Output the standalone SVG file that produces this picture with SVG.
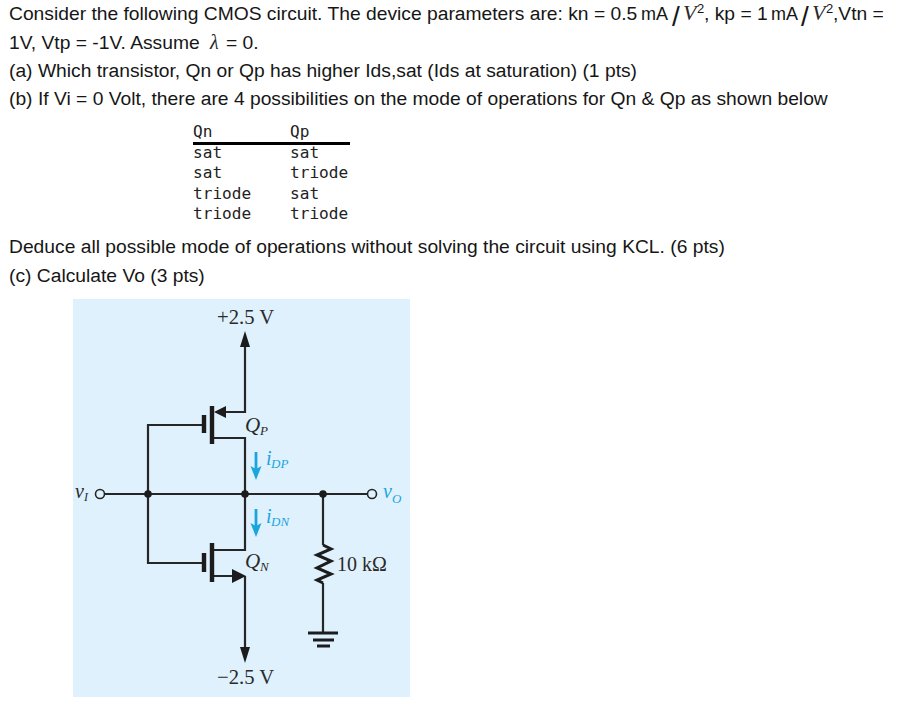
<svg xmlns="http://www.w3.org/2000/svg" width="902" height="706" viewBox="0 0 902 706">
<style>
.t{font-family:"Liberation Sans",Arial,sans-serif;font-size:19.25px;fill:#161616}
.m{font-family:"DejaVu Sans Mono","Liberation Mono",monospace;font-size:16.1px;fill:#222}
.s{font-family:"Liberation Serif","Times New Roman",serif;fill:#2a2a2a}
.i{font-style:italic}
.b{fill:#1ba5de}
.w{fill:none;stroke:#262626;stroke-width:2.2}
.z{fill:none;stroke:#1c1c1c;stroke-width:3}
.h{fill:none;stroke:#1c1c1c;stroke-width:4.4}
.f{fill:#1c1c1c}
.c{fill:#1ba5de}
.a{fill:none;stroke:#1ba5de;stroke-width:2.8}
.o{fill:#dff1fc;stroke:#262626;stroke-width:1.6}
</style>
<rect width="902" height="706" fill="#fff"/>
<g id="question">
<text class="t" x="9" y="20">Consider the following CMOS circuit. The device parameters are: kn = 0.5</text>
<text class="t" x="641" y="20" style="font-size:18px">mA</text>
<text class="t" x="672" y="26" style="font-size:28px">/</text>
<text class="s i" x="683" y="20" font-size="22" fill="#161616">V</text>
<text class="t" x="697" y="13" style="font-size:13px">2</text>
<text class="t" x="704" y="20">, kp = 1</text>
<text class="t" x="771" y="20" style="font-size:18px">mA</text>
<text class="t" x="801" y="26" style="font-size:28px">/</text>
<text class="s i" x="812" y="20" font-size="22" fill="#161616">V</text>
<text class="t" x="826" y="13" style="font-size:13px">2</text>
<text class="t" x="833" y="20">,Vtn =</text>
<text class="t" x="9" y="49">1V, Vtp = -1V. Assume</text>
<text class="s i" x="210" y="49" font-size="20" fill="#161616">λ</text>
<text class="t" x="226" y="49">= 0.</text>
<text class="t" x="9" y="77">(a) Which transistor, Qn or Qp has higher Ids,sat (Ids at saturation) (1 pts)</text>
<text class="t" x="9" y="105">(b) If Vi = 0 Volt, there are 4 possibilities on the mode of operations for Qn &amp; Qp as shown below</text>
<text class="t" x="9" y="253">Deduce all possible mode of operations without solving the circuit using KCL. (6 pts)</text>
<text class="t" x="9" y="282">(c) Calculate Vo (3 pts)</text>
</g>
<g id="table">
<text class="m" x="193" y="137">Qn</text><text class="m" x="290" y="137">Qp</text>
<rect x="193" y="142" width="157" height="3" fill="#000"/>
<text class="m" x="193" y="158">sat</text><text class="m" x="290" y="158">sat</text>
<text class="m" x="193" y="178">sat</text><text class="m" x="290" y="178">triode</text>
<text class="m" x="193" y="199">triode</text><text class="m" x="290" y="199">sat</text>
<text class="m" x="193" y="219">triode</text><text class="m" x="290" y="219">triode</text>
</g>
<rect id="panel" x="73" y="299" width="337" height="398" fill="#dff1fc"/>
<g id="connectors">
<path class="w" d="M245 345V412H224M212 438H245V550H212M104 494H368M148 494V425H204M148 494V563H204M212 576H234M245 576V650M323 494V545M323 583V632"/>
<path class="z" d="M323 545L331 549L317 555L331 561L317 568L331 574L317 580L323 583"/>
</g>
<g id="Qp">
<path class="h" d="M212 406V444M204 415V433"/>
<path class="f" d="M214 412L226 406V418Z"/>
</g>
<g id="Qn">
<path class="h" d="M212 543V582M204 553V572"/>
<path class="f" d="M246 576L232 569V583Z"/>
</g>
<g id="supply-pos">
<path class="f" d="M245 331L250 347H240Z"/>
<text class="s" x="217" y="324" font-size="20.7">+2.5 V</text>
</g>
<g id="supply-neg">
<path class="f" d="M245 663L240 647H250Z"/>
<text class="s" x="217" y="684" font-size="20.7">−2.5 V</text>
</g>
<g id="junctions">
<circle class="f" cx="148" cy="494" r="3.8"/>
<circle class="f" cx="245" cy="494" r="3.8"/>
<circle class="f" cx="323" cy="494" r="3.8"/>
</g>
<g id="input">
<circle class="o" cx="100" cy="494" r="4.5"/>
<text class="s i" x="75" y="498" font-size="20">v</text>
<text class="s i" x="84" y="501" font-size="12">I</text>
</g>
<g id="output">
<circle class="o" cx="372" cy="494" r="4.5"/>
<text class="s i b" x="383" y="498" font-size="20">v</text>
<text class="s i b" x="392" y="503" font-size="13">O</text>
</g>
<g id="idp">
<path class="a" d="M256 452V472"/>
<path class="c" d="M256 480L250.5 466L256 469L261.5 466Z"/>
<text class="s i b" x="266" y="465" font-size="20">i</text>
<text class="s i b" x="271" y="468" font-size="13">DP</text>
</g>
<g id="idn">
<path class="a" d="M256 509V529"/>
<path class="c" d="M256 537L250.5 523L256 526L261.5 523Z"/>
<text class="s i b" x="266" y="523" font-size="20">i</text>
<text class="s i b" x="271" y="526" font-size="13">DN</text>
</g>
<g id="labels">
<text class="s i" x="245" y="432" font-size="21">Q</text>
<text class="s i" x="260" y="435" font-size="13">P</text>
<text class="s i" x="245" y="568" font-size="21">Q</text>
<text class="s i" x="260" y="571" font-size="13">N</text>
</g>
<g id="resistor-label">
<text class="s" x="337" y="571" font-size="20">10 kΩ</text>
</g>
<g id="ground">
<path d="M308 633H338M313 640H334M317 646H330" fill="none" stroke="#1c1c1c" stroke-width="3"/>
</g>
</svg>
